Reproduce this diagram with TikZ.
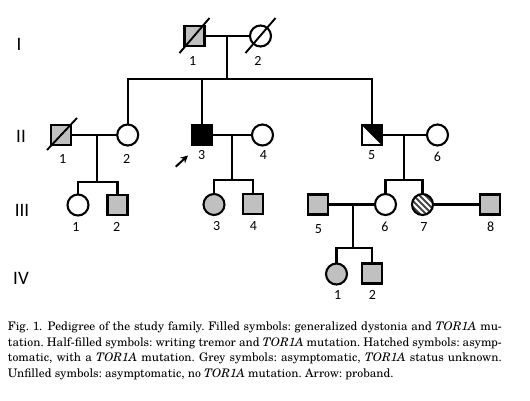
\documentclass[tikz,border=0pt]{standalone}
\usepackage{fontspec}
\setmainfont{TeX Gyre Schola}
\newfontfamily\lblfont{Carlito}
\usetikzlibrary{arrows.meta}
\definecolor{symgrey}{RGB}{192,192,192}
\definecolor{hatchcol}{RGB}{70,70,70}
\tikzset{
  base/.style={draw=black, line width=2.1pt, inner sep=0pt, outer sep=0pt},
  sq/.style={base, rectangle, minimum size=20pt},
  ci/.style={base, circle, minimum size=21pt},
  grey/.style={fill=symgrey},
  blk/.style={fill=black},
  wht/.style={fill=white},
  halfsq/.style={fill=white, path picture={
      \fill[black] (path picture bounding box.north west) -- (path picture bounding box.north east)
        -- (path picture bounding box.south east) -- cycle;}},
  hatched/.style={fill=white, path picture={
      \foreach \d in {-24,-18,...,24}{
        \draw[hatchcol, line width=1.9pt]
          ([xshift={(\d-14)*1pt}, yshift=14pt]path picture bounding box.center) --
          ([xshift={(\d+14)*1pt}, yshift=-14pt]path picture bounding box.center);}}},
  rel/.style={line width=2.1pt},
  dead/.style={line width=1.9pt},
  num/.style={font=\lblfont\fontsize{14}{14}\selectfont, inner sep=0pt},
  gen/.style={font=\lblfont\fontsize{19}{19}\selectfont, inner sep=0pt},
  captext/.style={anchor=north west, inner sep=0pt, text width=494pt, align=justify,
      font=\fontsize{11.8}{15.7}\selectfont},
}
\begin{document}
\begin{tikzpicture}[x=1pt, y=-1pt]
\useasboundingbox (0,0) rectangle (530,400);
% generation labels
\node[gen] (gI) at (19,44) {I};
\node[gen] (gII) at (21,136) {II};
\node[gen] (gIII) at (22,210) {III};
\node[gen] (gIV) at (21,278) {IV};
% junction coordinates
\coordinate (jI) at (226.7,36);
\coordinate (sI) at (0,79);
\coordinate (jII1) at (96.7,135);
\coordinate (sII1) at (0,182);
\coordinate (jII3) at (232.3,135);
\coordinate (sII3) at (0,180);
\coordinate (jII5) at (404,135);
\coordinate (sII5) at (0,180);
\coordinate (jIII5) at (353.3,205);
\coordinate (sIII5) at (0,248.3);
% Generation I
\node[sq, grey] (I1) at (194.5,36) {};
\node[ci, wht] (I2) at (260.5,36) {};
% Generation II
\node[sq, grey] (II1) at (61,135) {};
\node[ci, wht] (II2) at (127.7,135) {};
\node[sq, blk] (II3) at (202,135) {};
\node[ci, wht] (II4) at (262.5,135) {};
\node[sq, halfsq] (II5) at (371.7,135) {};
\node[ci, wht] (II6) at (437.5,135) {};
% Generation III
\node[ci, wht] (III1) at (78,205) {};
\node[sq, grey] (III2) at (117.5,205) {};
\node[ci, grey] (III3) at (214,204.5) {};
\node[sq, grey] (III4) at (252.8,204) {};
\node[sq, grey] (III5) at (318,204.5) {};
\node[ci, wht] (III6) at (385.5,204.5) {};
\node[ci, hatched] (III7) at (422.5,204.5) {};
\node[sq, grey] (III8) at (490,204.5) {};
% Generation IV
\node[ci, grey] (IV1) at (336.5,274) {};
\node[sq, grey] (IV2) at (372.3,273.5) {};
% relationship lines
\draw[rel] (I1) -- (I2);
\draw[rel] (jI) -- (jI |- sI);
\draw[rel] (II2.north) -- (II2.north |- sI) -- (II5.north |- sI) -- (II5.north);
\draw[rel] (II3.north) -- (II3.north |- sI);
\draw[rel] (II1) -- (II2);
\draw[rel] (jII1) -- (jII1 |- sII1);
\draw[rel] (III1.north) -- (III1.north |- sII1) -- (III2.north |- sII1) -- (III2.north);
\draw[rel] (II3) -- (II4);
\draw[rel] (jII3) -- (jII3 |- sII3);
\draw[rel] (III3.north) -- (III3.north |- sII3) -- (III4.north |- sII3) -- (III4.north);
\draw[rel] (II5) -- (II6);
\draw[rel] (jII5) -- (jII5 |- sII5);
\draw[rel] (III6.north) -- (III6.north |- sII5) -- (III7.north |- sII5) -- (III7.north);
\draw[rel] (III5) -- (III6);
\draw[rel] (III7) -- (III8);
\draw[rel] (jIII5) -- (jIII5 |- sIII5);
\draw[rel] (IV1.north) -- (IV1.north |- sIII5) -- (IV2.north |- sIII5) -- (IV2.north);
% deceased slashes
\draw[dead] ([shift={(-15pt,-17pt)}]I1.center) -- ([shift={(15pt,18pt)}]I1.center);
\draw[dead] ([shift={(-15pt,-17pt)}]I2.center) -- ([shift={(15pt,18pt)}]I2.center);
\draw[dead] ([shift={(-14pt,-15pt)}]II1.center) -- ([shift={(16pt,17pt)}]II1.center);
% proband arrow
\coordinate (arrS) at (175.7,166.7);
\coordinate (arrE) at (188,155.5);
\draw[line width=2pt, -{Stealth[length=7.5pt, width=7.5pt]}] (arrS) -- (arrE);
% individual numbers
\node[num] (nI1) at (192.7,61) {1};
\node[num] (nI2) at (258,61) {2};
\node[num] (nII1) at (62.7,159) {1};
\node[num] (nII2) at (126.7,159) {2};
\node[num] (nII3) at (201.7,155) {3};
\node[num] (nII4) at (263.3,155) {4};
\node[num] (nII5) at (371.7,155) {5};
\node[num] (nII6) at (437.3,157) {6};
\node[num] (nIII1) at (76,227) {1};
\node[num] (nIII2) at (116.7,227) {2};
\node[num] (nIII3) at (216.7,226) {3};
\node[num] (nIII4) at (253.3,226) {4};
\node[num] (nIII5) at (318.3,229.3) {5};
\node[num] (nIII6) at (385,227.3) {6};
\node[num] (nIII7) at (424,227) {7};
\node[num] (nIII8) at (490.7,227) {8};
\node[num] (nIV1) at (337.7,295) {1};
\node[num] (nIV2) at (372.3,295) {2};
% caption
\node[captext] (cap) at (7.7,321.5)
{\frenchspacing\spaceskip=0.27em plus 0.3em minus 0.15em\relax
Fig.~1.\hspace{0.45em}Pedigree of the study family. Filled symbols: generalized dystonia and \textit{TOR1A} mu-\linebreak
tation. Half-filled symbols: writing tremor and \textit{TOR1A} mutation. Hatched symbols: asymp-\linebreak
tomatic, with a \textit{TOR1A} mutation. Grey symbols: asymptomatic, \textit{TOR1A} status unknown.\linebreak
Unfilled symbols: asymptomatic, no \textit{TOR1A} mutation. Arrow: proband.};
\end{tikzpicture}
\end{document}
